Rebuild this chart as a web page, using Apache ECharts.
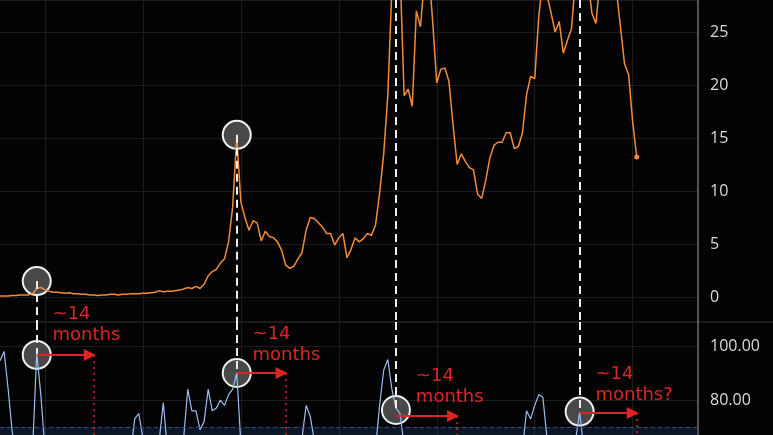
<!DOCTYPE html>
<html>
<head>
<meta charset="utf-8">
<script src="https://cdn.jsdelivr.net/npm/echarts@6/dist/echarts.min.js"></script>
<style>
  html, body { margin: 0; padding: 0; background: #030303; }
  #chart { width: 773px; height: 435px; }
</style>
</head>
<body>
<div id="chart"></div>
<script>
// x axis is just a running index of periods (no dates shown on the picture)
const categories = Array.from({ length: 172 }, (_, i) => String(i))

// price (top pane)
const priceValues = [
  0.1, 0.1, 0.1, 0.15, 0.15, 0.2, 0.2, 0.2, 0.3, 0.8,
  0.9, 0.7, 0.55, 0.45, 0.45, 0.4, 0.35, 0.4, 0.3, 0.3,
  0.25, 0.25, 0.2, 0.2, 0.15, 0.2, 0.2, 0.25, 0.25, 0.2,
  0.25, 0.25, 0.3, 0.3, 0.3, 0.35, 0.35, 0.4, 0.45, 0.6,
  0.5, 0.55, 0.55, 0.6, 0.65, 0.75, 0.9, 0.8, 1.0, 0.8,
  1.2, 2.0, 2.4, 2.6, 3.2, 3.6, 5.2, 8.5, 15.1, 9.0,
  7.5, 6.3, 7.2, 7.0, 5.3, 6.2, 5.7, 5.6, 5.2, 4.4,
  3.0, 2.7, 2.9, 3.6, 4.2, 6.3, 7.5, 7.4, 7.0, 6.6,
  6.0, 6.0, 4.9, 5.6, 6.0, 3.7, 4.5, 5.6, 5.2, 5.5,
  6.0, 5.8, 6.8, 9.8, 13.5, 19.0, 29, 32, 31, 19.0,
  19.6, 18, 27, 25.5, 30, 31, 26, 20.2, 21.5, 21.6,
  20.3, 16.2, 12.5, 13.5, 12.8, 12.2, 12.0, 9.7, 9.3, 11.0,
  13.1, 14.3, 14.6, 14.6, 15.5, 15.5, 14.0, 14.2, 15.5, 19.1,
  20.8, 20.6, 26.5, 30, 28.5, 26.8, 25, 26, 23, 24.2,
  25.3, 30, 32, 31, 30, 26.8, 25.8, 30, 32, 32,
  31, 29, 25.5, 22, 21, 16.5, 13.2
]

// oscillator (bottom pane), most of it sits below the visible window
const oscValues = [
  94.5, 98, 84, 68, 62, 60, 60, 60, 62, 97.4,
  82, 62, 60, 60, 60, 60, 60, 60, 60, 60,
  60, 60, 60, 60, 60, 60, 60, 60, 60, 60,
  60, 60, 60, 73, 75, 66, 60, 60, 60, 65,
  79, 62, 60, 60, 62, 66, 84, 76, 76, 69,
  72, 84, 76, 77, 80, 78, 82, 84, 90, 64,
  60, 60, 60, 60, 60, 60, 60, 60, 60, 60,
  60, 60, 60, 60, 66, 78, 74, 65, 60, 60,
  60, 60, 60, 60, 60, 60, 60, 60, 60, 60,
  60, 60, 62, 78, 91, 95, 84, 77, 75, 63,
  60, 60, 60, 60, 60, 60, 60, 60, 60, 60,
  60, 60, 60, 60, 60, 60, 60, 60, 60, 60,
  60, 60, 60, 60, 60, 60, 60, 60, 62, 76,
  73, 78, 82, 81, 66, 60, 60, 60, 60, 60,
  60, 65, 75.5, 62, 60, 60, 60, 60, 60, 60,
  60, 60, 60, 60, 60, 60, 60
]

const oscBand = 70

// annotations: [index, value]
const topCircles = [[9, 1.5], [58, 15.3]]
const bottomCircles = [[9, 96.7], [58, 90], [97, 76.3], [142, 75.7]]
// [from index, to index, level]
const arrows = [[9, 23, 96.7], [58, 70, 90], [97, 112, 74.1], [142, 156, 75.2]]
const notes = [
  [62, 107.9, '~14\nmonths'],
  [102, 92.4, '~14\nmonths'],
  [146, 93.1, '~14\nmonths?']
]
const firstNote = [13, -0.7, '~14\nmonths']

const topMin = -2.358
const topMax = 28.02
const botMin = 67.04
const botMax = 108.89

const red = '#dc2626'
const noteLabel = {
  show: true,
  position: [0, 0],
  align: 'left',
  verticalAlign: 'top',
  color: red,
  fontSize: 18,
  lineHeight: 21,
  fontFamily: 'DejaVu Sans'
}

function xAxisFor(gi) {
  return {
    type: 'category',
    gridIndex: gi,
    data: categories,
    boundaryGap: false,
    axisLine: { show: false },
    axisTick: { show: false },
    axisLabel: { show: false },
    splitLine: {
      show: true,
      interval: function(i) { return i >= 11 && (i - 11) % 24 === 0 },
      lineStyle: { color: '#1d1d1d', width: 1 }
    }
  }
}

const chart = echarts.init(document.getElementById('chart'))

const dashedWhite = { color: '#ececec', width: 2, type: [8, 5] }

const options = {
  backgroundColor: '#030303',
  animation: false,
  grid: [
    { left: 0, right: 75, top: 0, height: 322 },
    { left: 0, right: 75, top: 322, height: 113 }
  ],
  xAxis: [xAxisFor(0), xAxisFor(1)],
  yAxis: [
    {
      type: 'value',
      gridIndex: 0,
      position: 'right',
      min: topMin,
      max: topMax,
      splitNumber: 5,
      axisLine: { show: true, lineStyle: { color: '#6e6e6e', width: 1.5 } },
      axisTick: { show: false },
      axisLabel: {
        color: '#dcdcdc',
        fontSize: 16,
        fontFamily: 'Open Sans',
        margin: 12,
        showMinLabel: false,
        showMaxLabel: false,
        formatter: function(v) { return Math.abs(v % 5) < 1e-6 ? String(v) : '' }
      },
      splitLine: { lineStyle: { color: '#1d1d1d' } }
    },
    {
      type: 'value',
      gridIndex: 1,
      position: 'right',
      min: botMin,
      max: botMax,
      splitNumber: 2,
      axisLine: { show: true, lineStyle: { color: '#6e6e6e', width: 1.5 } },
      axisTick: { show: false },
      axisLabel: {
        color: '#dcdcdc',
        fontSize: 16,
        fontFamily: 'Open Sans',
        margin: 12,
        showMinLabel: false,
        showMaxLabel: false,
        formatter: function(v) { return Math.abs(v % 20) < 1e-6 ? v.toFixed(2) : '' }
      },
      splitLine: { lineStyle: { color: '#1d1d1d' } }
    }
  ],
  graphic: [
    {
      type: 'line',
      shape: { x1: 0, y1: 322, x2: 773, y2: 322 },
      style: { stroke: '#262626', lineWidth: 1.5 },
      z: 0
    }
  ],
  series: [
    {
      name: 'dashes top',
      type: 'line',
      xAxisIndex: 0,
      yAxisIndex: 0,
      data: [],
      z: 1,
      markLine: {
        silent: true,
        symbol: ['none', 'none'],
        label: { show: false },
        lineStyle: dashedWhite,
        data: [
          [{ coord: [topCircles[0][0], topCircles[0][1]] }, { coord: [topCircles[0][0], topMin] }],
          [{ coord: [topCircles[1][0], topCircles[1][1]] }, { coord: [topCircles[1][0], topMin] }],
          [{ coord: [bottomCircles[2][0], topMax] }, { coord: [bottomCircles[2][0], topMin] }],
          [{ coord: [bottomCircles[3][0], topMax] }, { coord: [bottomCircles[3][0], topMin] }]
        ]
      }
    },
    {
      name: 'dashes bottom',
      type: 'line',
      xAxisIndex: 1,
      yAxisIndex: 1,
      data: [],
      z: 1,
      markLine: {
        silent: true,
        symbol: ['none', 'none'],
        label: { show: false },
        lineStyle: dashedWhite,
        data: bottomCircles.map(function(c) {
          return [{ coord: [c[0], botMax] }, { coord: [c[0], c[1]] }]
        })
      }
    },
    {
      name: 'circles top',
      type: 'scatter',
      xAxisIndex: 0,
      yAxisIndex: 0,
      data: topCircles,
      symbolSize: 28,
      z: 2,
      silent: true,
      itemStyle: { color: 'rgba(76,76,76,0.95)', borderColor: '#f0f0f0', borderWidth: 2, opacity: 1 }
    },
    {
      name: 'circles bottom',
      type: 'scatter',
      xAxisIndex: 1,
      yAxisIndex: 1,
      data: bottomCircles,
      symbolSize: 28,
      z: 2,
      silent: true,
      itemStyle: { color: 'rgba(76,76,76,0.95)', borderColor: '#f0f0f0', borderWidth: 2, opacity: 1 }
    },
    {
      name: 'price',
      type: 'line',
      xAxisIndex: 0,
      yAxisIndex: 0,
      data: priceValues,
      showSymbol: false,
      z: 3,
      lineStyle: { color: '#f28c38', width: 1.5 },
      markPoint: {
        silent: true,
        data: [
          {
            coord: [priceValues.length - 1, priceValues[priceValues.length - 1]],
            symbol: 'circle',
            symbolSize: 5,
            itemStyle: { color: '#f28c38' },
            label: { show: false }
          },
          {
            coord: [firstNote[0], firstNote[1]],
            symbol: 'rect',
            symbolSize: 1,
            itemStyle: { color: 'rgba(0,0,0,0)' },
            label: Object.assign({}, noteLabel, { formatter: firstNote[2] })
          }
        ]
      }
    },
    {
      name: 'oscillator',
      type: 'line',
      xAxisIndex: 1,
      yAxisIndex: 1,
      data: oscValues,
      showSymbol: false,
      z: 3,
      lineStyle: { color: '#9cbff0', width: 1.2 },
      markArea: {
        silent: true,
        itemStyle: { color: 'rgba(35,65,120,0.3)' },
        data: [[{ yAxis: botMin }, { yAxis: oscBand }]]
      },
      markLine: {
        silent: true,
        symbol: ['none', 'none'],
        label: { show: false },
        data: [
          [
            { coord: [0, oscBand], lineStyle: { color: '#2f4d82', width: 1, type: [4, 3] } },
            { coord: [categories.length - 1, oscBand] }
          ]
        ].concat(arrows.map(function(a) {
          return [
            { coord: [a[0], a[2]], lineStyle: { color: red, width: 2, type: 'solid' } },
            { coord: [a[1] - 1, a[2]], symbol: 'triangle', symbolSize: 12 }
          ]
        })).concat(arrows.map(function(a) {
          return [
            { coord: [a[1], a[2]], lineStyle: { color: red, width: 1.5, type: [2, 4] } },
            { coord: [a[1], botMin] }
          ]
        }))
      },
      markPoint: {
        silent: true,
        data: notes.map(function(n) {
          return {
            coord: [n[0], n[1]],
            symbol: 'rect',
            symbolSize: 1,
            itemStyle: { color: 'rgba(0,0,0,0)' },
            label: Object.assign({}, noteLabel, { formatter: n[2] })
          }
        })
      }
    }
  ]
}

chart.setOption(options)
window.addEventListener('resize', function() {
  chart.resize()
})
</script>
</body>
</html>
